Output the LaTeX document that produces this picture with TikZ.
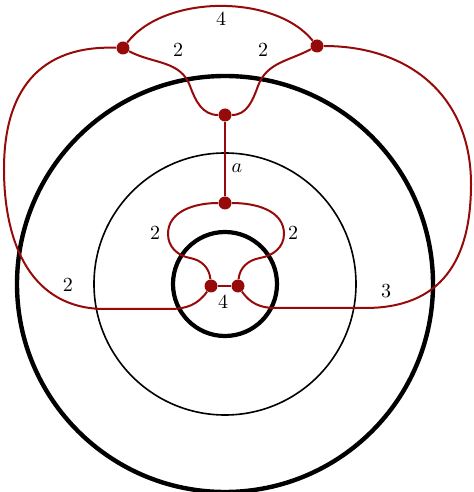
\documentclass[tikz,border=0pt]{standalone}
\usepackage{amsmath}
\usepackage{amssymb}
\usepackage{tikz}
\definecolor{darkred}{RGB}{150,10,10}

\begin{document}
\begin{tikzpicture}[x=0.5pt,y=0.5pt,
	vertex/.style={circle, fill=darkred, inner sep=0pt, minimum size=6.5pt},
	edge/.style={color=darkred, line width=1pt},
	weight/.style={inner sep=1pt}]
	\useasboundingbox (-225,-208) rectangle (249,284);

	% Draw circles
	%Outer
	\draw[line width=2.2pt] (0,0) circle (208);
	%Middle
	\draw[line width=0.8pt] (0,0) circle (131);
	%Inner
	\draw[line width=2.1pt] (0,0) circle (52);

	% Place vertices
	\node[vertex] (tl) at (-102,236) {};
	\node[vertex] (tr) at (92,238) {};
	\node[vertex] (mid) at (0,169) {};
	\node[vertex] (av) at (0,81) {};
	\node[vertex] (il) at (-14,-2) {};
	\node[vertex] (ir) at (13,-2) {};

	% Plot edges
	% Top arc
	\draw[edge] (tl) .. controls (-60,290) and (50,290) .. (tr);
	% Down to the middle vertex
	\draw[edge] (tl) to[out=-28,in=110] (-35,198) to[out=-70,in=180] (mid);
	\draw[edge] (tr) to[out=-152,in=70] (33,198) to[out=-110,in=0] (mid);
	% Edge a
	\draw[edge] (mid) -- (av);
	% Left loop
	\draw[edge] (tl) to[out=178,in=90,looseness=1.2] (-221,115) to[out=-90,in=180,looseness=1.1] (-120,-25) -- (-55,-25) to[out=0,in=-125] (il);
	% Right loop
	\draw[edge] (tr) to[out=0,in=90,looseness=1.1] (246,100) to[out=-90,in=0,looseness=1.2] (140,-24) -- (50,-24) to[out=180,in=-55] (ir);
	% Small loops
	\draw[edge] (av) to[out=180,in=90] (-57,50) to[out=-90,in=170] (-35,26) to[out=-10,in=95] (il);
	\draw[edge] (av) to[out=0,in=90] (59,50) to[out=-90,in=10] (35,26) to[out=190,in=85] (ir);
	% Inner edge
	\draw[edge] (il) -- (ir);

	%Add labels
	\node[weight] (w1) at (-4,265) {$4$};
	\node[weight] (w2) at (-47,234) {$2$};
	\node[weight] (w3) at (38,234) {$2$};
	\node[weight] (wa) at (12,116) {$a$};
	\node[weight] (w4) at (-70,51) {$2$};
	\node[weight] (w5) at (68,51) {$2$};
	\node[weight] (w6) at (-157,-1) {$2$};
	\node[weight] (w7) at (161,-7) {$3$};
	\node[weight] (w8) at (-2,-18) {$4$};

\end{tikzpicture}
\end{document}
